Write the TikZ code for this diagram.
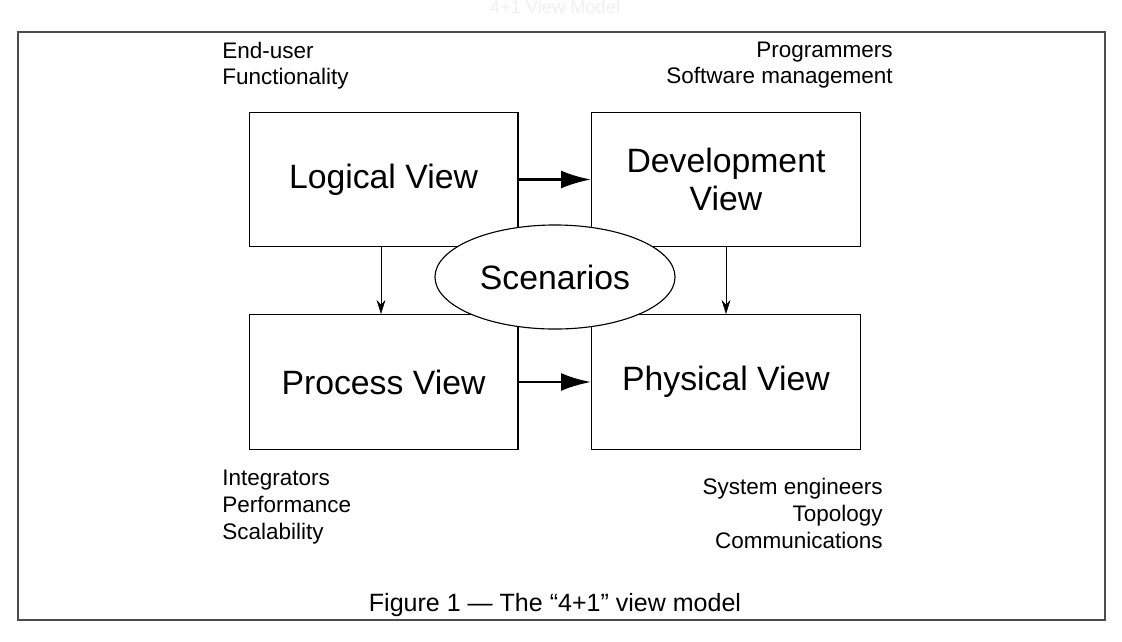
\documentclass[tikz,border=0pt]{standalone}
\usepackage{fontspec}
\setmainfont{Liberation Sans}
\usetikzlibrary{shapes.geometric,arrows.meta}
\begin{document}
\begin{tikzpicture}[
        x=0.025cm, y=-0.025cm,
        view/.style={draw, thick, minimum width=6.72cm, minimum height=3.37cm, align=center, font=\fontsize{24}{27}\selectfont},
        role/.style={font=\fontsize{16}{18.5}\selectfont, inner sep=0pt},
        big/.style={-{Latex[length=7.5mm,width=4.5mm]}, line width=2pt},
        small/.style={-{Stealth[length=3.5mm,width=2.2mm]}, thin}
    ]
        \useasboundingbox (0,0) rectangle (1122,641);
        \node[text=black!6, font=\fontsize{13}{15}\selectfont, anchor=north, inner sep=0pt] (title) at (555,0) {4+1 View Model};
        % Frame
        \draw[thick, black!70] (18,32) rectangle (1105,620);

        % Views
        \node[view] (logical) at (383.5,179.5) {Logical View};
        \node[view] (devel) at (726,179.5) {Development\\View};
        \node[view] (process) at (383.5,382) {Process View};
        \node[view] (physical) at (726,382) {Physical View};
        \node[ellipse, draw, thick, fill=white, minimum width=6cm, minimum height=2.6cm, font=\fontsize{24}{27}\selectfont] (scen) at (555,277) {Scenarios};

        % Arrows
        \draw[big] (logical.east) -- (devel.west);
        \draw[big] (process.east) -- (physical.west);
        \draw[small] (logical.south -| 381,0) -- (process.north -| 381,0);
        \draw[small] (devel.south) -- (physical.north);

        % Stakeholders
        \node[role, anchor=north west, align=left] (enduser) at (222,42) {End-user\\Functionality};
        \node[role, anchor=north east, align=right] (prog) at (893,42) {Programmers\\Software management};
        \node[role, anchor=north west, align=left, font=\fontsize{16}{19}\selectfont] (integ) at (222,470) {Integrators\\Performance\\Scalability};
        \node[role, anchor=north east, align=right, font=\fontsize{16}{19}\selectfont] (syseng) at (883,478) {System engineers\\Topology\\Communications};

        % Caption
        \node[role, font=\fontsize{17.8}{20}\selectfont] (caption) at (555,605) {Figure 1 — The “4+1” view model};
    \end{tikzpicture}
\end{document}
